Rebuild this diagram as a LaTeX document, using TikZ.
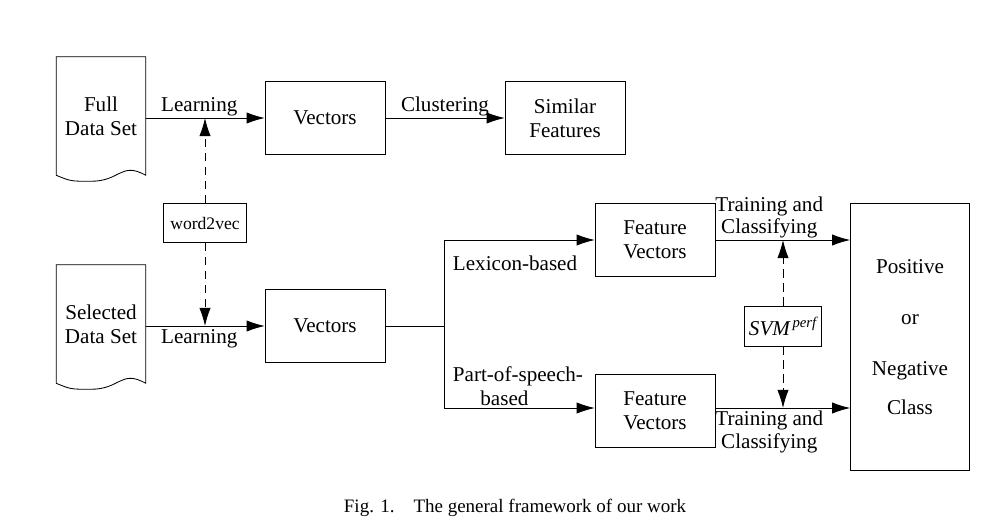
\documentclass[tikz,border=0pt]{standalone}
\usepackage{fontspec}
\setmainfont{Liberation Serif}
\usetikzlibrary{positioning,arrows.meta}
\tikzset{
  big/.style={font=\fontsize{15}{17}\selectfont},
  box/.style={draw, rectangle, minimum width=120*0.025cm, minimum height=73*0.025cm, align=center, big},
  doc/.style={rectangle, minimum width=89*0.025cm, minimum height=118*0.025cm, align=center, big},
  lab/.style={big, align=center},
  arr/.style={-{Latex[length=4.5mm,width=2.8mm]}, semithick},
  darr/.style={-{Latex[length=4.5mm,width=2.8mm]}, semithick, dash pattern=on 6pt off 4pt}
}
\begin{document}
\begin{tikzpicture}[x=0.025cm,y=-0.025cm]
\useasboundingbox (0,0) rectangle (1000,532);
% data sets
\node (full)[doc] at (101,116) {Full\\Data Set};
\node (sel)[doc] at (101,324) {Selected\\Data Set};
\foreach \d in {full,sel}{
  \draw[semithick] (\d.south west) -- (\d.north west) -- (\d.north east) -- (\d.south east)
    .. controls +(-25,-14) and +(30,0) .. ++(-55,6) .. controls +(-20,0) .. (\d.south west);
}
% boxes
\node (vec1)[box] at (325,118) {Vectors};
\node (sim)[box] at (565,118) {Similar\\Features};
\node (vec2)[box] at (325,326) {Vectors};
\node (fv1)[box] at (655,240) {Feature\\Vectors};
\node (fv2)[box] at (655,411) {Feature\\Vectors};
\node (cls)[box, minimum width=119*0.025cm, minimum height=267*0.025cm] at (910,337) {Positive\\[1.3em]or\\[1.3em]Negative\\[0.7em]Class};
\node (w2v)[draw, rectangle, minimum width=83*0.025cm, minimum height=39*0.025cm, font=\fontsize{12.5}{14}\selectfont] at (205,223) {word2vec};
\node (svm)[draw, rectangle, minimum width=77*0.025cm, minimum height=40*0.025cm, big] at (783,326) {$\mathit{SVM}^{\,\mathit{perf}}$};
% learning arrows
\draw[arr] (full.east |- vec1) -- node[lab, above, pos=0.45, inner sep=1pt]{Learning} (vec1);
\draw[arr] (sel.east |- vec2) -- node[lab, below, pos=0.45, inner sep=2pt]{Learning} (vec2);
\draw[arr] (vec1) -- node[lab, above, inner sep=1pt]{Clustering} (sim);
\coordinate (up1) at (205,118);
\coordinate (dn1) at (205,326);
\draw[darr] (w2v) -- (up1);
\draw[darr] (w2v) -- (dn1);
% branches
\coordinate (br) at (444,326);
\coordinate (c1) at (444,240);
\coordinate (c2) at (444,408);
\draw[semithick] (vec2) -- (br);
\draw[arr] (br) -- (c1) -- (c1 -| fv1.west);
\draw[arr] (br) -- (c2) -- (c2 -| fv2.west);
\node (lex)[lab, anchor=west] at (448,263) {Lexicon-based};
\node (pos)[lab, anchor=west, align=left] at (448,386) {Part-of-speech-\\\hspace*{1.3em}based};
\draw[arr] (fv1) -- node[lab, above, pos=0.4, inner sep=1pt, font=\fontsize{15}{16}\selectfont]{Training and\\Classifying} (fv1 -| cls.west);
\draw[arr] (c2 -| fv2.east) -- node[lab, below, pos=0.4, inner sep=2pt, font=\fontsize{15}{16}\selectfont]{Training and\\Classifying} (c2 -| cls.west);
\coordinate (up2) at (783,240);
\coordinate (dn2) at (783,408);
\draw[darr] (svm) -- (up2);
\draw[darr] (svm) -- (dn2);
\node (cap)[font=\fontsize{13.5}{15}\selectfont] at (515,508) {Fig. 1.\quad The general framework of our work};
\end{tikzpicture}
\end{document}
